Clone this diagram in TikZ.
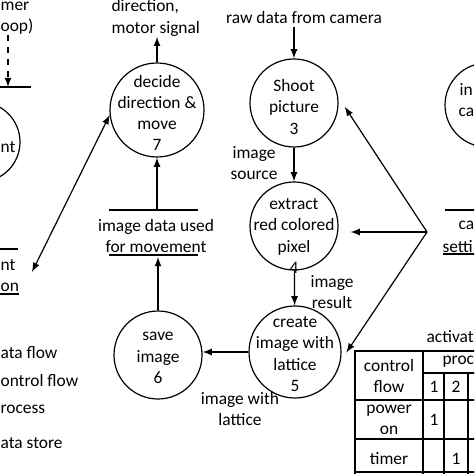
\documentclass[tikz,border=0pt]{standalone}
\usepackage{fontspec}
\setmainfont{Carlito}
\usetikzlibrary{arrows.meta,positioning}

\begin{document}
\begin{tikzpicture}[x=0.5pt,y=-0.5pt,line width=0.6pt,
        every node/.style={font=\fontsize{8.7}{10.6}\selectfont,inner sep=1pt,align=center},
        proc/.style={draw,circle,inner sep=0pt},
        ptext/.style={inner sep=0pt},
        flow/.style={-latex},
        frag/.style={anchor=west,inner sep=0pt,align=left}]
    \useasboundingbox (0,0) rectangle (474,474);
    \clip (0,0) rectangle (474,474);
    %
    % processes
    \node[proc,minimum size=47pt] (decide) at (157,110) {};
    \node[ptext] (decidetxt) at (157,113) {decide\\direction \&\\move\\7};
    \node[proc,minimum size=44pt] (shoot) at (294,103) {};
    \node[ptext] (shoottxt) at (294,107) {Shoot\\picture\\3};
    \node[proc,minimum size=44pt] (extract) at (294,226) {};
    \node[ptext] (extracttxt) at (294,236) {extract\\red colored\\pixel\\4};
    \node[proc,minimum size=46pt] (create) at (295,352) {};
    \node[ptext] (createtxt) at (295,354) {create\\image with\\lattice\\5};
    \node[proc,minimum size=44pt] (save) at (158,355) {};
    \node[ptext] (savetxt) at (158,358) {save\\image\\6};
    \node[proc,minimum size=40pt] (lproc) at (-20,142) {};
    \node[frag] at (0,147) {nt};
    \node[proc,minimum size=42pt] (rproc) at (487,105) {};
    \node[frag] at (459,90) {in};
    \node[frag] at (458,112) {ca};
    %
    % texts at the ends of the flows
    \node (raw) at (304,18) {raw data from camera};
    \node[frag] (dir) at (111,18) {direction,\\motor signal};
    \node[frag] (timer) at (0,18) {mer\\oop)};
    %
    % data stores
    \node[inner sep=0pt] (imgdata) at (156,236) {image data used\\for movement};
    \draw (109,210) -- (198,210);
    \draw (109,255) -- (198,255);
    \coordinate (imgtop) at (157,210);
    \coordinate (imgbot) at (158,257);
    \draw (445,210) -- (480,210);
    \draw (443,254) -- (480,254);
    \node[frag] at (458,225) {ca};
    \node[frag] at (442,247) {setti};
    \coordinate (cs) at (427,232);
    \draw (-5,249) -- (18,249);
    \draw (-5,294) -- (19,294);
    \node[frag] at (0,265) {nt};
    \node[frag] at (0,287) {on};
    \coordinate (lstore) at (32,272);
    \draw (-5,87) -- (31,87);
    \coordinate (tline) at (8,87);
    %
    % flows
    \draw[flow] (raw.south -| shoot) -- (shoot);
    \draw[flow] (shoot) -- (extract);
    \draw[flow] (extract) -- (create);
    \draw[flow] (create.west) -- (create.west -| save.east);
    \draw[flow] (save.north) -- (imgbot);
    \draw[flow] (imgtop) -- (decide.south);
    \draw[flow] (decide) -- (decide |- dir.south);
    \draw[latex-latex] (lstore) -- (decide.186);
    \draw[flow,dashed] (timer.south -| tline) -- (tline);
    \draw[flow,shorten >=6pt] (cs) -- (shoot.8);
    \draw[flow,shorten >=6pt] (cs) -- (cs -| extract.east);
    \draw[flow,shorten >=5pt] (cs) -- (create.-11);
    %
    \node at (254,163) {image\\source};
    \node at (332,292) {image\\result};
    \node at (240,409) {image with\\lattice};
    %
    % legend
    \node[frag] at (0,353) {ata flow};
    \node[frag] at (0,381) {ontrol flow};
    \node[frag] at (0,409) {rocess};
    \node[frag] at (0,443) {ata store};
    %
    % activation table
    \node[frag] at (426,337) {activat};
    \draw (355,480) -- (355,351) -- (480,351);
    \draw (423,351) -- (423,480);
    \draw (423,373) -- (480,373);
    \draw (444,373) -- (444,480);
    \draw (468,373) -- (468,480);
    \draw (355,400) -- (480,400);
    \draw (355,439) -- (480,439);
    \draw (355,472) -- (480,472);
    \node at (389,376) {control\\flow};
    \node[frag] at (442,362) {proc};
    \node at (434,387) {1};
    \node at (456,387) {2};
    \node at (389,420) {power\\on};
    \node at (434,420) {1};
    \node at (389,459) {timer};
    \node at (456,459) {1};
\end{tikzpicture}
\end{document}
